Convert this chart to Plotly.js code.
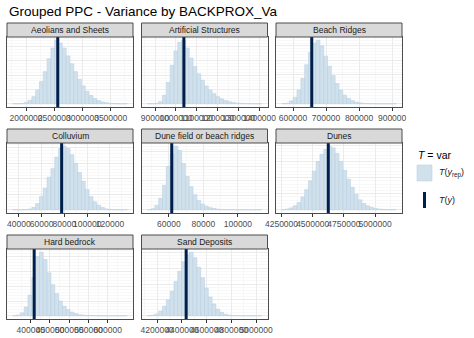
<!DOCTYPE html>
<html>
<head>
<meta charset="utf-8">
<script src="https://cdn.plot.ly/plotly-3.0.1.min.js"></script>
<style>html,body{margin:0;padding:0;background:#fff;}#chart{width:474px;height:338px;}</style>
</head>
<body>
<div id="chart"></div>
<script>
// ---- data ----
const panelNames = ['Aeolians and Sheets', 'Artificial Structures', 'Beach Ridges', 'Colluvium',
  'Dune field or beach ridges', 'Dunes', 'Hard bedrock', 'Sand Deposits'];
const observedVar = [2562000, 1038000, 656700, 77600, 61700, 4625000, 409000, 4435000];
const binStart = [1764450, 862500, 565800, 34675, 47500, 4251900, 353300, 4120700];
const binWidth = [67640, 18280, 11560, 3350, 2211, 30600, 9918, 30820];

const countsAeolians = [1,1,3,10,25,50,95,155,225,315,390,445,425,390,335,280,225,170,125,88,58,37,22,13,8,4,2,1,0,1];
const countsArtificial = [1,1,3,15,60,150,270,370,430,445,390,320,260,210,165,125,95,70,50,35,24,15,10,6,4,2,1,1,0,1];
const countsBeach = [2,5,20,45,95,175,270,355,420,440,400,330,260,195,140,95,60,38,22,12,7,4,2,1,1,0,0,0,0,1];
const countsColluvium = [1,0,1,2,5,15,40,85,140,210,265,340,395,410,395,355,300,240,185,130,85,52,30,15,6,3,1,1,0,1];
const countsDuneField = [1,8,30,80,170,300,390,440,410,320,230,160,105,65,40,25,15,9,5,3,2,1,1,0,0,0,0,0,0,1];
const countsDunes = [1,5,12,25,45,80,125,180,240,300,345,375,395,385,350,300,245,190,140,95,62,40,25,15,9,5,3,1,1,1];
const countsBedrock = [1,6,20,60,140,260,400,430,380,290,210,150,100,65,42,26,15,8,5,3,2,1,1,0,0,0,0,0,0,1];
const countsSand = [1,5,12,30,60,100,155,215,280,340,385,400,365,305,240,175,118,75,42,22,10,5,2,1,1,0,0,0,0,1];
const allCounts = [countsAeolians, countsArtificial, countsBeach, countsColluvium,
  countsDuneField, countsDunes, countsBedrock, countsSand];

const ticksAeolians = [2000000, 2500000, 3000000, 3500000];
const ticksArtificial = [900000, 1000000, 1100000, 1200000, 1300000, 1400000];
const ticksBeach = [600000, 700000, 800000, 900000];
const ticksColluvium = [40000, 60000, 80000, 100000, 120000];
const ticksDuneField = [60000, 80000, 100000];
const ticksDunes = [4250000, 4500000, 4750000, 5000000];
const ticksBedrock = [400000, 450000, 500000, 550000, 600000];
const ticksSand = [4200000, 4400000, 4600000, 4800000, 5000000];
const allTicks = [ticksAeolians, ticksArtificial, ticksBeach, ticksColluvium,
  ticksDuneField, ticksDunes, ticksBedrock, ticksSand];

// ---- layout geometry ----
const W = 474, H = 338;
const colLeft = [7, 141.5, 276], colW = 126;
const rowTop = [37, 143, 249], rowH = 70, stripH = 14;
const FONT = 'Liberation Sans, Arial, sans-serif';
const fillC = '#d1e1ec', edgeC = '#b3cde0', obsC = '#011f4b';

const traces = [];
const layout = {
  width: W, height: H, margin: {l: 0, r: 0, t: 0, b: 0},
  paper_bgcolor: '#fff', plot_bgcolor: '#fff', showlegend: false,
  font: {family: FONT, color: '#1a1a1a'},
  shapes: [], annotations: [], bargap: 0
};

panelNames.forEach((name, i) => {
  const r = Math.floor(i / 3), c = i % 3, s = i === 0 ? '' : String(i + 1);
  const counts = allCounts[i];
  const lo = binStart[i], bw = binWidth[i];
  const xs = counts.map((_, k) => lo + (k + 0.5) * bw);
  const maxC = Math.max(...counts);
  traces.push({
    type: 'bar', x: xs, y: counts, width: bw,
    xaxis: 'x' + s, yaxis: 'y' + s,
    marker: {color: fillC, line: {color: edgeC, width: 0.5}},
    hoverinfo: 'skip'
  });
  const dtick = allTicks[i][1] - allTicks[i][0];
  layout['xaxis' + s] = {
    domain: [colLeft[c] / W, (colLeft[c] + colW) / W], anchor: 'y' + s,
    range: [lo - 1.5 * bw, lo + 31.5 * bw],
    tickmode: 'array', tickvals: allTicks[i], ticktext: allTicks[i].map(v => String(v)),
    tickangle: 0, ticks: 'outside', ticklen: 3, tickcolor: '#333', tickwidth: 1,
    tickfont: {size: 8.5, color: '#4d4d4d', family: FONT},
    showgrid: true, gridcolor: '#ebebeb', gridwidth: 1,
    minor: {tickmode: 'linear', tick0: allTicks[i][0] - dtick / 2, dtick: dtick, showgrid: true, gridcolor: '#f4f4f4', gridwidth: 0.6},
    showline: true, mirror: true, linecolor: '#4d4d4d', linewidth: 1,
    zeroline: false, fixedrange: true
  };
  layout['yaxis' + s] = {
    domain: [1 - (rowTop[r] + rowH) / H, 1 - rowTop[r] / H], anchor: 'x' + s,
    range: [-0.05 * maxC, 1.05 * maxC],
    showticklabels: false, ticks: '', nticks: 6,
    showgrid: true, gridcolor: '#ebebeb', gridwidth: 1,
    minor: {showgrid: true, gridcolor: '#f4f4f4', gridwidth: 0.6},
    showline: true, mirror: true, linecolor: '#4d4d4d', linewidth: 1,
    zeroline: false, fixedrange: true
  };
  // observed statistic line
  layout.shapes.push({
    type: 'line', xref: 'x' + s, yref: 'y' + s + ' domain',
    x0: observedVar[i], x1: observedVar[i], y0: 0, y1: 1,
    line: {color: obsC, width: 3}
  });
  // strip
  layout.shapes.push({
    type: 'rect', xref: 'paper', yref: 'paper',
    x0: colLeft[c] / W, x1: (colLeft[c] + colW) / W,
    y0: 1 - rowTop[r] / H, y1: 1 - (rowTop[r] - stripH) / H,
    fillcolor: '#d9d9d9', line: {color: '#4d4d4d', width: 1}
  });
  layout.annotations.push({
    xref: 'paper', yref: 'paper', x: (colLeft[c] + colW / 2) / W, y: 1 - (rowTop[r] - stripH / 2) / H,
    text: name, showarrow: false, xanchor: 'center', yanchor: 'middle',
    font: {size: 8.5, color: '#1a1a1a', family: FONT}
  });
});

// title
layout.annotations.push({
  xref: 'paper', yref: 'paper', x: 7 / W, y: 1 - 11 / H, xanchor: 'left', yanchor: 'middle',
  text: 'Grouped PPC - Variance by BACKPROX_Va', showarrow: false,
  font: {size: 13.5, color: '#000', family: FONT}
});

// legend
layout.annotations.push({
  xref: 'paper', yref: 'paper', x: 416 / W, y: 1 - 155 / H, xanchor: 'left', yanchor: 'middle',
  text: '<i>T</i> = var', showarrow: false, font: {size: 10.5, color: '#000', family: FONT}
});
layout.shapes.push({
  type: 'rect', xref: 'paper', yref: 'paper',
  x0: 417 / W, x1: 432 / W, y0: 1 - 181 / H, y1: 1 - 165 / H,
  fillcolor: fillC, line: {color: edgeC, width: 0.5}
});
layout.annotations.push({
  xref: 'paper', yref: 'paper', x: 437 / W, y: 1 - 173 / H, xanchor: 'left', yanchor: 'middle',
  text: '<i>T</i>(<i>y</i><sub>rep</sub>)', showarrow: false, font: {size: 9, color: '#1a1a1a', family: FONT}
});
layout.shapes.push({
  type: 'line', xref: 'paper', yref: 'paper',
  x0: 424.5 / W, x1: 424.5 / W, y0: 1 - 208 / H, y1: 1 - 192 / H,
  line: {color: obsC, width: 3}
});
layout.annotations.push({
  xref: 'paper', yref: 'paper', x: 437 / W, y: 1 - 200 / H, xanchor: 'left', yanchor: 'middle',
  text: '<i>T</i>(<i>y</i>)', showarrow: false, font: {size: 9, color: '#1a1a1a', family: FONT}
});

Plotly.newPlot('chart', traces, layout, {displayModeBar: false, staticPlot: true});
</script>
</body>
</html>
